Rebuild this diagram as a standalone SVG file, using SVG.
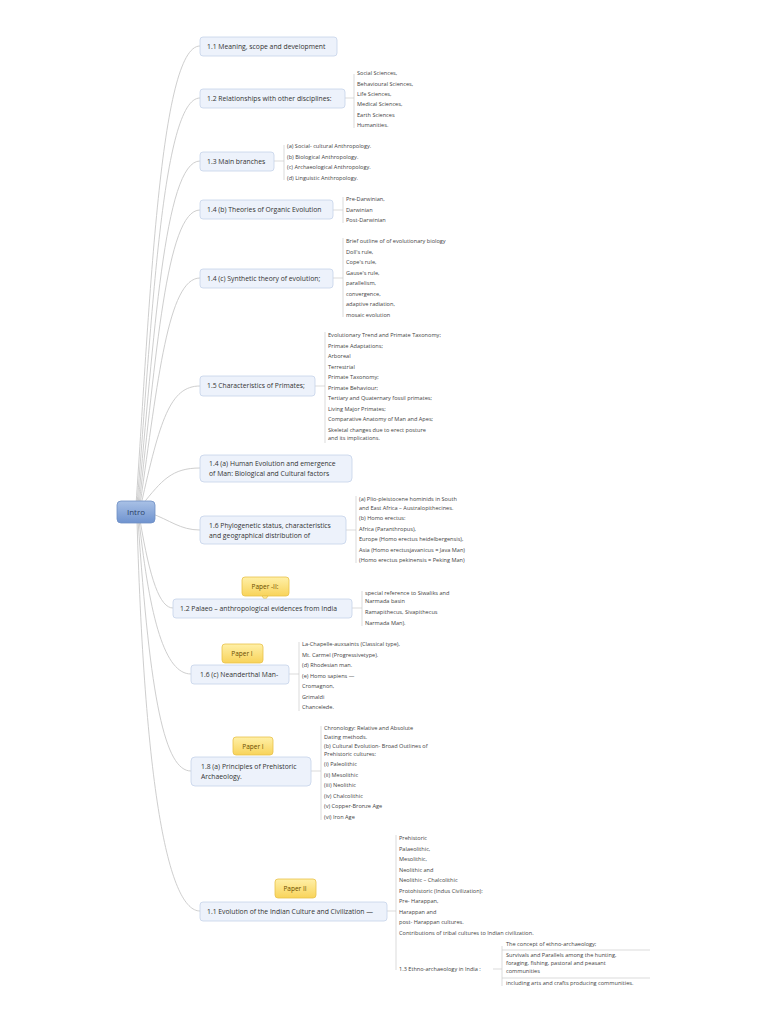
<svg xmlns="http://www.w3.org/2000/svg" width="768" height="1024" viewBox="0 0 768 1024">
<defs>
<linearGradient id="ig" x1="0" y1="0" x2="0" y2="1"><stop offset="0" stop-color="#a9c1e6"/><stop offset="1" stop-color="#6f93cf"/></linearGradient>
<linearGradient id="pg" x1="0" y1="0" x2="0" y2="1"><stop offset="0" stop-color="#fff0a8"/><stop offset="1" stop-color="#f8d35a"/></linearGradient>
<style>
text{font-family:"Open Sans","DejaVu Sans",sans-serif;fill:#333}
.n{fill:#edf2fb;stroke:#c5d3ea;stroke-width:0.8}
.t{font-size:6.8px}
.c{font-size:5.6px;fill:#444}
.p{fill:url(#pg);stroke:#e8c24a;stroke-width:0.8}
.pt{font-size:6.5px;fill:#6a4d00;text-anchor:middle}
.l{fill:none;stroke:#c8c8c8;stroke-width:0.9}
.b{fill:none;stroke:#ccc;stroke-width:0.7}
</style>
</defs>
<g id="connectors">
<path class="l" d="M136 505 C150 300 160 46 200 46"/>
<path class="l" d="M137 505 C152 320 162 98 200 98"/>
<path class="l" d="M138 505 C154 340 164 161 200 161"/>
<path class="l" d="M139 505 C156 360 166 210 200 210"/>
<path class="l" d="M140 505 C158 380 168 278 200 278"/>
<path class="l" d="M141 505 C160 420 170 386 200 386"/>
<path class="l" d="M142 505 C162 480 172 468 200 468"/>
<path class="l" d="M150 513 C170 520 180 530 200 530"/>
<path class="l" d="M140 520 C150 580 160 608 173 608"/>
<path class="l" d="M139 520 C150 620 165 674 191 674"/>
<path class="l" d="M138 520 C150 700 165 771 191 771"/>
<path class="l" d="M137 520 C145 800 170 911 200 911"/>
<path class="b" d="M345 98 H354 M354 74 V128"/>
<path class="b" d="M274 161 H284 M284 145 V180"/>
<path class="b" d="M333 210 H343 M343 197 V223"/>
<path class="b" d="M333 278 H343 M343 238 V317"/>
<path class="b" d="M315 386 H325 M325 332 V443"/>
<path class="b" d="M346 530 H356 M356 496 V563"/>
<path class="b" d="M352 608 H362 M362 591 V626"/>
<path class="b" d="M289 674 H299 M299 642 V711"/>
<path class="b" d="M311 771 H321 M321 726 V820"/>
<path class="b" d="M387 911 H396 M396 835 V970"/>
<path class="b" d="M493 969 H502 M502 946 V986 M502 950 H650 M502 978 H650"/>
</g>
<g id="intro"><rect x="117" y="501" width="38" height="22" rx="4" fill="url(#ig)" stroke="#6f8fc4" stroke-width="0.8"/><text x="136" y="515" style="font-size:8px;fill:#2b3f66;text-anchor:middle">Intro</text></g>
<g id="n11"><rect class="n" x="200" y="37" width="137" height="19" rx="3"/><text class="t" x="207" y="49">1.1 Meaning, scope and development</text></g>
<g id="n12"><rect class="n" x="200" y="89" width="145" height="19" rx="3"/><text class="t" x="207" y="101">1.2 Relationships with other disciplines:</text>
<text class="c" x="357"><tspan x="357" y="75">Social Sciences,</tspan><tspan x="357" y="85.5">Behavioural Sciences,</tspan><tspan x="357" y="95.8">Life Sciences,</tspan><tspan x="357" y="106">Medical Sciences,</tspan><tspan x="357" y="116.5">Earth Sciences</tspan><tspan x="357" y="127">Humanities.</tspan></text></g>
<g id="n13"><rect class="n" x="200" y="152" width="74" height="19" rx="3"/><text class="t" x="207" y="164">1.3 Main branches</text>
<text class="c"><tspan x="287" y="148">(a) Social- cultural Anthropology.</tspan><tspan x="287" y="158.5">(b) Biological Anthropology.</tspan><tspan x="287" y="169">(c) Archaeological Anthropology.</tspan><tspan x="287" y="179.5">(d) Linguistic Anthropology.</tspan></text></g>
<g id="n14b"><rect class="n" x="200" y="200" width="133" height="19" rx="3"/><text class="t" x="207" y="212">1.4 (b) Theories of Organic Evolution</text>
<text class="c"><tspan x="346" y="201">Pre-Darwinian,</tspan><tspan x="346" y="211.5">Darwinian</tspan><tspan x="346" y="222">Post-Darwinian</tspan></text></g>
<g id="n14c"><rect class="n" x="200" y="269" width="133" height="19" rx="3"/><text class="t" x="207" y="281">1.4 (c) Synthetic theory of evolution;</text>
<text class="c"><tspan x="346" y="243">Brief outline of of evolutionary biology</tspan><tspan x="346" y="253.5">Doll's rule,</tspan><tspan x="346" y="264">Cope's rule,</tspan><tspan x="346" y="274.5">Gause's rule,</tspan><tspan x="346" y="285">parallelism,</tspan><tspan x="346" y="295.5">convergence,</tspan><tspan x="346" y="306">adaptive radiation,</tspan><tspan x="346" y="316.5">mosaic evolution</tspan></text></g>
<g id="n15"><rect class="n" x="200" y="376" width="115" height="20" rx="3"/><text class="t" x="207" y="388">1.5 Characteristics of Primates;</text>
<text class="c"><tspan x="328" y="337">Evolutionary Trend and Primate Taxonomy;</tspan><tspan x="328" y="347.5">Primate Adaptations;</tspan><tspan x="328" y="358">Arboreal</tspan><tspan x="328" y="368.5">Terrestrial</tspan><tspan x="328" y="379">Primate Taxonomy;</tspan><tspan x="328" y="389.5">Primate Behaviour;</tspan><tspan x="328" y="400">Tertiary and Quaternary fossil primates;</tspan><tspan x="328" y="410.5">Living Major Primates;</tspan><tspan x="328" y="421">Comparative Anatomy of Man and Apes;</tspan><tspan x="328" y="431.5">Skeletal changes due to erect posture</tspan><tspan x="328" y="440">and its implications.</tspan></text></g>
<g id="n14a"><rect class="n" x="200" y="455" width="152" height="27" rx="4"/><text class="t"><tspan x="209" y="466">1.4 (a) Human Evolution and emergence</tspan><tspan x="209" y="476">of Man: Biological and Cultural factors</tspan></text></g>
<g id="n16"><rect class="n" x="200" y="516" width="146" height="28" rx="4"/><text class="t"><tspan x="209" y="528">1.6 Phylogenetic status, characteristics</tspan><tspan x="209" y="538">and geographical distribution of</tspan></text>
<text class="c"><tspan x="359" y="501">(a) Plio-pleistocene hominids in South</tspan><tspan x="359" y="509.5">and East Africa –  Australopithecines.</tspan><tspan x="359" y="520">(b) Homo erectus:</tspan><tspan x="359" y="530.5">Africa (Paranthropus),</tspan><tspan x="359" y="541">Europe (Homo erectus heidelbergensis),</tspan><tspan x="359" y="551.5">Asia  (Homo erectusjavanicus = Java Man)</tspan><tspan x="359" y="562">(Homo erectus pekinensis = Peking Man)</tspan></text></g>
<g id="p1"><rect class="p" x="242" y="577" width="47" height="19" rx="3"/><path class="p" d="M262 596 L265 600 L268 596Z" stroke="none"/><text class="pt" x="265" y="589">Paper -II:</text></g>
<g id="n12p"><rect class="n" x="173" y="599" width="179" height="19" rx="3"/><text class="t" x="180" y="611">1.2 Palaeo – anthropological evidences from India</text>
<text class="c"><tspan x="365" y="595">special reference to Siwaliks and</tspan><tspan x="365" y="603">Narmada basin</tspan><tspan x="365" y="614">Ramapithecus, Sivapithecus</tspan><tspan x="365" y="624.5">Narmada Man).</tspan></text></g>
<g id="p2"><rect class="p" x="222" y="644" width="41" height="19" rx="3"/><text class="pt" x="242" y="656">Paper I</text></g>
<g id="n16c"><rect class="n" x="191" y="665" width="98" height="19" rx="3"/><text class="t" x="200" y="677">1.6 (c) Neanderthal Man-</text>
<text class="c"><tspan x="302" y="646">La-Chapelle-auxsaints (Classical type),</tspan><tspan x="302" y="656.5">Mt. Carmel (Progressivetype).</tspan><tspan x="302" y="667">(d) Rhodesian man.</tspan><tspan x="302" y="677.5">(e) Homo sapiens —</tspan><tspan x="302" y="688">Cromagnon,</tspan><tspan x="302" y="698.5">Grimaldi</tspan><tspan x="302" y="709">Chancelede.</tspan></text></g>
<g id="p3"><rect class="p" x="233" y="737" width="40" height="18" rx="3"/><text class="pt" x="253" y="749">Paper I</text></g>
<g id="n18a"><rect class="n" x="191" y="757" width="120" height="29" rx="4"/><text class="t"><tspan x="201" y="769">1.8 (a) Principles of Prehistoric</tspan><tspan x="201" y="779">Archaeology.</tspan></text>
<text class="c"><tspan x="324" y="730">Chronology: Relative and Absolute</tspan><tspan x="324" y="738.5">Dating methods.</tspan><tspan x="324" y="748">(b) Cultural Evolution- Broad Outlines of</tspan><tspan x="324" y="756">Prehistoric cultures:</tspan><tspan x="324" y="766">(i) Paleolithic</tspan><tspan x="324" y="776.5">(ii) Mesolithic</tspan><tspan x="324" y="787">(iii) Neolithic</tspan><tspan x="324" y="797.5">(iv) Chalcolithic</tspan><tspan x="324" y="808">(v) Copper-Bronze Age</tspan><tspan x="324" y="818.5">(vi) Iron Age</tspan></text></g>
<g id="p4"><rect class="p" x="275" y="879" width="41" height="19" rx="3"/><text class="pt" x="295" y="891">Paper II</text></g>
<g id="n11e"><rect class="n" x="200" y="902" width="187" height="19" rx="3"/><text class="t" x="207" y="914">1.1 Evolution of the Indian Culture and Civilization —</text>
<text class="c"><tspan x="399" y="840">Prehistoric</tspan><tspan x="399" y="850.5">Palaeolithic,</tspan><tspan x="399" y="861">Mesolithic,</tspan><tspan x="399" y="871.5">Neolithic and</tspan><tspan x="399" y="882">Neolithic – Chalcolithic</tspan><tspan x="399" y="892.5">Protohistoric (Indus Civilization):</tspan><tspan x="399" y="903">Pre- Harappan,</tspan><tspan x="399" y="913.5">Harappan and</tspan><tspan x="399" y="924">post- Harappan cultures.</tspan><tspan x="399" y="934.5">Contributions of tribal cultures to Indian civilization.</tspan><tspan x="399" y="971">1.3 Ethno-archaeology in India :</tspan></text>
<text class="c"><tspan x="506" y="946">The concept of ethno-archaeology;</tspan><tspan x="506" y="957">Survivals and Parallels among the hunting,</tspan><tspan x="506" y="965">foraging, fishing, pastoral and peasant</tspan><tspan x="506" y="973">communities</tspan><tspan x="506" y="985">including arts and crafts producing communities.</tspan></text></g>
</svg>
